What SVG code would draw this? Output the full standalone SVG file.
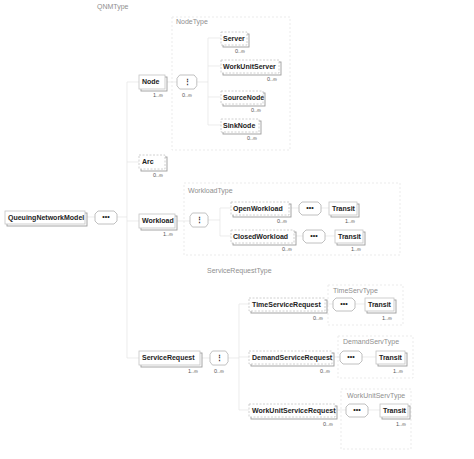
<svg xmlns="http://www.w3.org/2000/svg" width="474" height="459" viewBox="0 0 474 459">
<style>
.bg{fill:#fff}
.el{fill:#fff;stroke:#c4c4c4;stroke-width:0.8}
.opt{stroke-dasharray:2 1.5}
.sh{fill:#fff;stroke:#9c9c9c;stroke-width:0.9}
.cmp{fill:#fff;stroke:#b0b0b0;stroke-width:0.8}
.name{font-family:"Liberation Sans",Arial,sans-serif;font-size:7px;font-weight:bold;fill:#222}
.sym{font-family:"Liberation Sans",Arial,sans-serif;font-size:7px;font-weight:bold;fill:#222;text-anchor:middle}
.occ{font-family:"Liberation Sans",Arial,sans-serif;font-size:5.5px;fill:#555;text-anchor:end}
.type{font-family:"Liberation Sans",Arial,sans-serif;font-size:7px;fill:#8f8f8f}
.tbox{fill:none;stroke:#e6e6e6;stroke-width:0.8;stroke-dasharray:2 2}
.con{fill:none;stroke:#e4e4e4;stroke-width:0.7}
</style>
<defs>
<path id="cmpshape" d="M3,0 H19 L22,3 V10 L19,13 H3 L0,10 V3 Z"/>
</defs>
<rect class="bg" width="474" height="459"/>

<g id="types">
<text class="type" x="97" y="9">QNMType</text>
<rect class="tbox" x="172" y="17" width="118" height="133"/>
<text class="type" x="176" y="24">NodeType</text>
<rect class="tbox" x="184" y="183" width="216" height="72"/>
<text class="type" x="188" y="193">WorkloadType</text>
<text class="type" x="207" y="273">ServiceRequestType</text>
<rect class="tbox" x="328" y="285" width="75" height="40"/>
<text class="type" x="333" y="293">TimeServType</text>
<rect class="tbox" x="338" y="336" width="75" height="42"/>
<text class="type" x="343" y="344">DemandServType</text>
<rect class="tbox" x="341" y="389" width="70" height="60"/>
<text class="type" x="347" y="398">WorkUnitServType</text>
</g>

<g id="connectors">
<path class="con" d="M85,217 H95"/>
<path class="con" d="M117,217 H127 M127,82 V358 M127,82 H139 M127,162 H139 M127,221 H139 M127,358 H139"/>
<path class="con" d="M165,82 H177 M197,82 H208 M208,38 V125 M208,38 H221 M208,66 H221 M208,97 H221 M208,125 H221"/>
<path class="con" d="M175,221 H190 M208,220 H220 M220,208 V236 M220,208 H231 M220,236 H231"/>
<path class="con" d="M289,208 H299 M321,208 H329 M294,236 H303 M325,236 H335"/>
<path class="con" d="M200,358 H210 M228,358 H239 M239,304 V410 M239,304 H249 M239,357 H249 M239,410 H249"/>
<path class="con" d="M325,304 H333 M355,304 H365 M332,357 H340 M362,357 H376 M335,410 H346 M367,410 H380"/>
</g>

<g id="QueuingNetworkModel">
<rect class="sh" x="7" y="213" width="80" height="13"/>
<rect class="el" x="5" y="211" width="80" height="13"/>
<text class="name" x="8" y="220">QueuingNetworkModel</text>
</g>
<g id="seq0">
<use href="#cmpshape" class="cmp" x="95" y="211"/>
<text class="sym" x="106" y="219">•••</text>
</g>

<g id="Node">
<rect class="sh" x="141" y="77" width="26" height="14"/>
<rect class="el" x="139" y="75" width="26" height="14"/>
<text class="name" x="142" y="84">Node</text>
<text class="occ" x="163" y="97">1..∞</text>
</g>
<g id="choiceNode">
<use href="#cmpshape" class="cmp" transform="translate(177,75) scale(0.9,1.08)"/>
<text class="sym" x="187" y="84">⋮</text>
<text class="occ" x="192" y="97">0..∞</text>
</g>
<g id="Server">
<rect class="sh" x="223" y="34" width="26" height="13"/>
<rect class="el opt" x="221" y="32" width="26" height="13"/>
<text class="name" x="223" y="41">Server</text>
<text class="occ" x="245" y="53">0..∞</text>
</g>
<g id="WorkUnitServer">
<rect class="sh" x="223" y="62" width="58" height="13"/>
<rect class="el opt" x="221" y="60" width="58" height="13"/>
<text class="name" x="223" y="69">WorkUnitServer</text>
<text class="occ" x="277" y="81">0..∞</text>
</g>
<g id="SourceNode">
<rect class="sh" x="223" y="93" width="42" height="13"/>
<rect class="el opt" x="221" y="91" width="42" height="13"/>
<text class="name" x="223" y="100">SourceNode</text>
<text class="occ" x="261" y="112">0..∞</text>
</g>
<g id="SinkNode">
<rect class="sh" x="223" y="121" width="38" height="13"/>
<rect class="el opt" x="221" y="119" width="38" height="13"/>
<text class="name" x="223" y="128">SinkNode</text>
<text class="occ" x="257" y="140">0..∞</text>
</g>
<g id="Arc">
<rect class="sh" x="141" y="157" width="26" height="14"/>
<rect class="el opt" x="139" y="155" width="26" height="14"/>
<text class="name" x="142" y="164">Arc</text>
<text class="occ" x="163" y="177">0..∞</text>
</g>

<g id="Workload">
<rect class="sh" x="141" y="216" width="36" height="14"/>
<rect class="el" x="139" y="214" width="36" height="14"/>
<text class="name" x="142" y="223">Workload</text>
<text class="occ" x="173" y="236">1..∞</text>
</g>
<g id="choiceWorkload">
<use href="#cmpshape" class="cmp" transform="translate(190,213) scale(0.82,1.08)"/>
<text class="sym" x="199" y="222">⋮</text>
</g>
<g id="OpenWorkload">
<rect class="sh" x="233" y="204" width="58" height="13"/>
<rect class="el opt" x="231" y="202" width="58" height="13"/>
<text class="name" x="233" y="211">OpenWorkload</text>
<text class="occ" x="287" y="223">0..∞</text>
</g>
<g id="seqOpen">
<use href="#cmpshape" class="cmp" x="299" y="202"/>
<text class="sym" x="310" y="210">•••</text>
</g>
<g id="TransitOpen">
<rect class="sh" x="331" y="204" width="28" height="13"/>
<rect class="el" x="329" y="202" width="28" height="13"/>
<text class="name" x="332" y="211">Transit</text>
<text class="occ" x="355" y="223">1..∞</text>
</g>
<g id="ClosedWorkload">
<rect class="sh" x="233" y="232" width="63" height="13"/>
<rect class="el opt" x="231" y="230" width="63" height="13"/>
<text class="name" x="233" y="239">ClosedWorkload</text>
<text class="occ" x="292" y="251">0..∞</text>
</g>
<g id="seqClosed">
<use href="#cmpshape" class="cmp" x="303" y="230"/>
<text class="sym" x="314" y="238">•••</text>
</g>
<g id="TransitClosed">
<rect class="sh" x="337" y="232" width="28" height="13"/>
<rect class="el" x="335" y="230" width="28" height="13"/>
<text class="name" x="338" y="239">Transit</text>
<text class="occ" x="361" y="251">1..∞</text>
</g>

<g id="TimeServiceRequest">
<rect class="sh" x="251" y="300" width="76" height="13"/>
<rect class="el opt" x="249" y="298" width="76" height="13"/>
<text class="name" x="252" y="307">TimeServiceRequest</text>
<text class="occ" x="323" y="320">0..∞</text>
</g>
<g id="seqTime">
<use href="#cmpshape" class="cmp" x="333" y="298"/>
<text class="sym" x="344" y="306">•••</text>
</g>
<g id="TransitTime">
<rect class="sh" x="367" y="300" width="29" height="13"/>
<rect class="el" x="365" y="298" width="29" height="13"/>
<text class="name" x="368" y="307">Transit</text>
<text class="occ" x="392" y="320">1..∞</text>
</g>

<g id="ServiceRequest">
<rect class="sh" x="141" y="353" width="61" height="14"/>
<rect class="el" x="139" y="351" width="61" height="14"/>
<text class="name" x="142" y="360">ServiceRequest</text>
<text class="occ" x="198" y="373">1..∞</text>
</g>
<g id="choiceServiceRequest">
<use href="#cmpshape" class="cmp" transform="translate(210,351) scale(0.82,1.08)"/>
<text class="sym" x="219" y="360">⋮</text>
<text class="occ" x="224" y="373">0..∞</text>
</g>
<g id="DemandServiceRequest">
<rect class="sh" x="251" y="353" width="83" height="13"/>
<rect class="el opt" x="249" y="351" width="83" height="13"/>
<text class="name" x="252" y="360">DemandServiceRequest</text>
<text class="occ" x="330" y="373">0..∞</text>
</g>
<g id="seqDemand">
<use href="#cmpshape" class="cmp" x="340" y="351"/>
<text class="sym" x="351" y="359">•••</text>
</g>
<g id="TransitDemand">
<rect class="sh" x="378" y="353" width="29" height="13"/>
<rect class="el" x="376" y="351" width="29" height="13"/>
<text class="name" x="379" y="360">Transit</text>
<text class="occ" x="403" y="373">1..∞</text>
</g>

<g id="WorkUnitServiceRequest">
<rect class="sh" x="251" y="406" width="86" height="13"/>
<rect class="el opt" x="249" y="404" width="86" height="13"/>
<text class="name" x="252" y="413">WorkUnitServiceRequest</text>
<text class="occ" x="333" y="426">0..∞</text>
</g>
<g id="seqWorkUnit">
<use href="#cmpshape" class="cmp" x="346" y="404"/>
<text class="sym" x="357" y="412">•••</text>
</g>
<g id="TransitWorkUnit">
<rect class="sh" x="382" y="406" width="28" height="13"/>
<rect class="el" x="380" y="404" width="28" height="13"/>
<text class="name" x="383" y="413">Transit</text>
<text class="occ" x="406" y="426">1..∞</text>
</g>
</svg>
